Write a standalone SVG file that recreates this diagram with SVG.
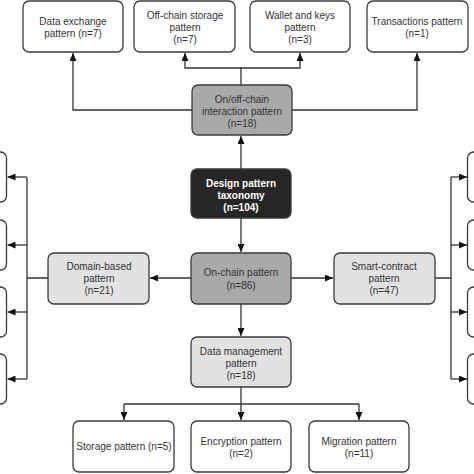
<svg xmlns="http://www.w3.org/2000/svg" width="474" height="474" viewBox="0 0 474 474">
<style>
.b{stroke:#3a3a3a;stroke-width:1.3}
.w{fill:#ffffff}
.m{fill:#a9a9a9}
.l{fill:#e2e2e2}
.d{fill:#262626}
text{font-family:"Liberation Sans",Arial,sans-serif;font-size:10px;fill:#333;text-anchor:middle}
.t{fill:#ffffff;font-weight:bold}
.c{fill:none;stroke:#333;stroke-width:1.3}
</style>
<defs>
<marker id="a" markerUnits="userSpaceOnUse" markerWidth="8" markerHeight="7" refX="8" refY="3.5" orient="auto">
<path d="M0,0 L8,3.5 L0,7 z" fill="#111"/>
</marker>
</defs>
<rect width="474" height="474" fill="#ffffff"/>
<g id="connectors">
<path class="c" d="M241,85 V68 H185 V53" marker-end="url(#a)"/>
<path class="c" d="M241,68 H300 V53" marker-end="url(#a)"/>
<path class="c" d="M192,110 H73 V53" marker-end="url(#a)"/>
<path class="c" d="M292,110 H417 V53" marker-end="url(#a)"/>
<path class="c" d="M241,169 V136" marker-end="url(#a)"/>
<path class="c" d="M241,218 V252" marker-end="url(#a)"/>
<path class="c" d="M191,278 H150" marker-end="url(#a)"/>
<path class="c" d="M291,278 H333" marker-end="url(#a)"/>
<path class="c" d="M48,278 H27 M27,177 V379"/>
<path class="c" d="M27,177 H7.5" marker-end="url(#a)"/>
<path class="c" d="M27,245 H7.5" marker-end="url(#a)"/>
<path class="c" d="M27,312 H7.5" marker-end="url(#a)"/>
<path class="c" d="M27,379 H7.5" marker-end="url(#a)"/>
<path class="c" d="M435,278 H451 M451,177 V379"/>
<path class="c" d="M451,177 H467" marker-end="url(#a)"/>
<path class="c" d="M451,245 H467" marker-end="url(#a)"/>
<path class="c" d="M451,312 H467" marker-end="url(#a)"/>
<path class="c" d="M451,379 H467" marker-end="url(#a)"/>
<path class="c" d="M241,304 V336" marker-end="url(#a)"/>
<path class="c" d="M241,387 V420" marker-end="url(#a)"/>
<path class="c" d="M124,404 H359"/>
<path class="c" d="M124,404 V420" marker-end="url(#a)"/>
<path class="c" d="M359,404 V420" marker-end="url(#a)"/>
</g>
<g id="data-exchange">
<rect class="b w" x="23" y="1" width="100" height="51" rx="6"/>
<text x="73" y="25">Data exchange</text>
<text x="73" y="37">pattern (n=7)</text>
</g>
<g id="off-chain-storage">
<rect class="b w" x="134" y="1" width="101" height="51" rx="6"/>
<text x="185" y="19">Off-chain storage</text>
<text x="185" y="31">pattern</text>
<text x="185" y="43">(n=7)</text>
</g>
<g id="wallet-keys">
<rect class="b w" x="250" y="1" width="100" height="51" rx="6"/>
<text x="300" y="19">Wallet and keys</text>
<text x="300" y="31">pattern</text>
<text x="300" y="43">(n=3)</text>
</g>
<g id="transactions">
<rect class="b w" x="367" y="1" width="101" height="51" rx="6"/>
<text x="417" y="25">Transactions pattern</text>
<text x="417" y="37">(n=1)</text>
</g>
<g id="on-off-chain">
<rect class="b m" x="192" y="85" width="100" height="50" rx="6"/>
<text x="242" y="103">On/off-chain</text>
<text x="242" y="115">interaction pattern</text>
<text x="242" y="127">(n=18)</text>
</g>
<g id="taxonomy">
<rect class="b d" x="191" y="169" width="100" height="49" rx="6"/>
<text class="t" x="241" y="187">Design pattern</text>
<text class="t" x="241" y="199">taxonomy</text>
<text class="t" x="241" y="211">(n=104)</text>
</g>
<g id="on-chain">
<rect class="b m" x="191" y="253" width="100" height="51" rx="6"/>
<text x="241" y="276">On-chain pattern</text>
<text x="241" y="289">(n=86)</text>
</g>
<g id="domain-based">
<rect class="b l" x="48" y="253" width="101" height="51" rx="6"/>
<text x="99" y="270">Domain-based</text>
<text x="99" y="282">pattern</text>
<text x="99" y="294">(n=21)</text>
</g>
<g id="smart-contract">
<rect class="b l" x="334" y="253" width="101" height="51" rx="6"/>
<text x="384" y="270">Smart-contract</text>
<text x="384" y="282">pattern</text>
<text x="384" y="294">(n=47)</text>
</g>
<g id="data-management">
<rect class="b l" x="191" y="337" width="100" height="50" rx="6"/>
<text x="241" y="355">Data management</text>
<text x="241" y="367">pattern</text>
<text x="241" y="379">(n=18)</text>
</g>
<g id="storage">
<rect class="b w" x="73" y="421" width="101" height="51" rx="6"/>
<text x="124" y="450">Storage pattern (n=5)</text>
</g>
<g id="encryption">
<rect class="b w" x="191" y="421" width="100" height="51" rx="6"/>
<text x="241" y="445">Encryption pattern</text>
<text x="241" y="457">(n=2)</text>
</g>
<g id="migration">
<rect class="b w" x="309" y="421" width="100" height="51" rx="6"/>
<text x="359" y="445">Migration pattern</text>
<text x="359" y="457">(n=11)</text>
</g>
<g id="left-1"><rect class="b w" x="-60" y="152" width="66.5" height="50" rx="6"/></g>
<g id="left-2"><rect class="b w" x="-60" y="220" width="66.5" height="50" rx="6"/></g>
<g id="left-3"><rect class="b w" x="-60" y="287" width="66.5" height="50" rx="6"/></g>
<g id="left-4"><rect class="b w" x="-60" y="354" width="66.5" height="50" rx="6"/></g>
<g id="right-1"><rect class="b w" x="467.5" y="152" width="70" height="50" rx="6"/></g>
<g id="right-2"><rect class="b w" x="467.5" y="220" width="70" height="50" rx="6"/></g>
<g id="right-3"><rect class="b w" x="467.5" y="287" width="70" height="50" rx="6"/></g>
<g id="right-4"><rect class="b w" x="467.5" y="354" width="70" height="50" rx="6"/></g>
</svg>
